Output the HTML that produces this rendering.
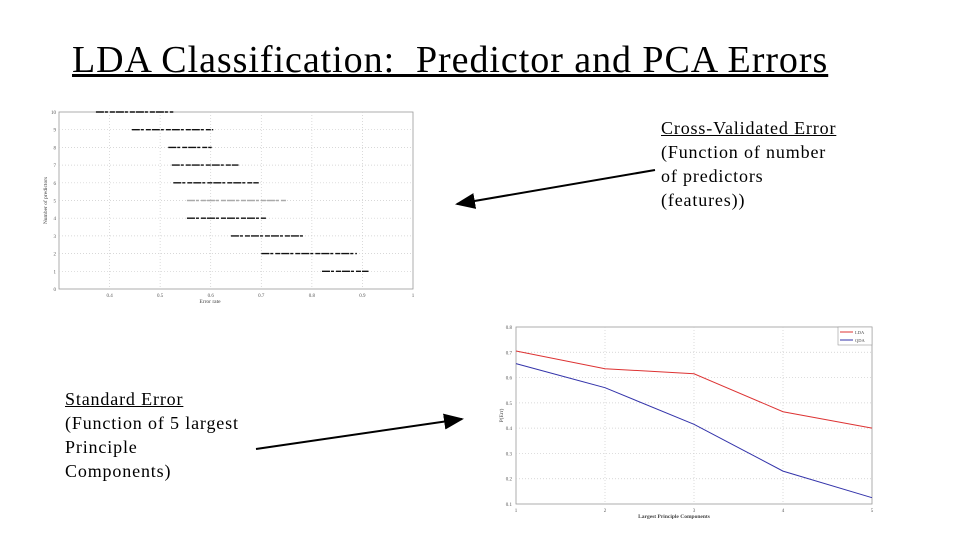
<!DOCTYPE html>
<html><head><meta charset="utf-8"><style>
body{margin:0;background:#fff;}
#slide{position:relative;width:960px;height:540px;overflow:hidden;background:#fff;font-family:"Liberation Serif",serif;color:#000;}
.title{position:absolute;left:72px;top:38px;font-size:38px;letter-spacing:0.95px;text-decoration:underline;white-space:nowrap;}
.note{position:absolute;font-size:18px;line-height:24px;letter-spacing:0.85px;}
.note u{text-decoration:underline;}
svg{position:absolute;left:0;top:0;}
</style></head><body>
<div id="slide">
<div class="title">LDA Classification:&nbsp; Predictor and PCA Errors</div>
<div class="note" style="left:661px;top:116px;"><u>Cross-Validated Error</u><br>(Function of number<br>of predictors<br>(features))</div>
<div class="note" style="left:65px;top:387px;"><u>Standard Error</u><br>(Function of 5 largest<br>Principle<br>Components)</div>
<svg id="svg" width="960" height="540">
<defs><marker id="ah" markerWidth="10" markerHeight="8" refX="9" refY="4" orient="auto"><path d="M0,0 L10,4 L0,8 z" fill="#000"/></marker></defs>
<line x1="655" y1="170" x2="457" y2="204" stroke="#000" stroke-width="2" marker-end="url(#ah)"/>
<line x1="256" y1="449" x2="462" y2="419" stroke="#000" stroke-width="2" marker-end="url(#ah)"/>
</svg>
</div>
<script>
// Chart 1 data
const predCounts=[1,2,3,4,5,6,7,8,9,10];
const errMin=[0.82,0.70,0.64,0.553,0.553,0.526,0.523,0.516,0.444,0.373];
const errMax=[0.912,0.889,0.784,0.711,0.75,0.695,0.655,0.602,0.605,0.526];
const x1Ticks=[0.3,0.4,0.5,0.6,0.7,0.8,0.9,1.0];
const x1Labels=["","0.4","0.5","0.6","0.7","0.8","0.9","1"];
const y1Ticks=[0,1,2,3,4,5,6,7,8,9,10];
// Chart 2 data
const pcs=[1,2,3,4,5];
const ldaErr=[0.705,0.635,0.615,0.465,0.40];
const qdaErr=[0.655,0.56,0.415,0.23,0.125];
const y2Ticks=[0.1,0.2,0.3,0.4,0.5,0.6,0.7,0.8];

const NS='http://www.w3.org/2000/svg';
const svg=document.getElementById('svg');
function mk(t,a,p){const e=document.createElementNS(NS,t);for(const k in a)e.setAttribute(k,a[k]);(p||svg).appendChild(e);return e;}

// Chart 1
const c1={l:59,r:413,t:112,b:289};
const sx1=v=>c1.l+(v-0.3)/0.7*(c1.r-c1.l);
const sy1=v=>c1.b-v/10*(c1.b-c1.t);
const g1=mk('g',{});


mk('rect',{x:c1.l,y:c1.t,width:c1.r-c1.l,height:c1.b-c1.t,fill:'#fff',stroke:'#999','stroke-width':0.8},g1);
x1Ticks.forEach((v,i)=>{
 const x=sx1(v);
 if(i>0&&i<x1Ticks.length-1)mk('line',{x1:x,y1:c1.t,x2:x,y2:c1.b,stroke:'#ccc','stroke-dasharray':'1,2','stroke-width':0.7},g1);
 const t=mk('text',{x:x,y:c1.b+8,'font-size':5,'text-anchor':'middle',fill:'#555','font-family':'Liberation Serif'},g1);
 t.textContent=x1Labels[i];
});
y1Ticks.forEach(v=>{
 const y=sy1(v);
 if(v>0&&v<10)mk('line',{x1:c1.l,y1:y,x2:c1.r,y2:y,stroke:'#ccc','stroke-dasharray':'1,2','stroke-width':0.7},g1);
 const t=mk('text',{x:c1.l-3,y:y+2,'font-size':5,'text-anchor':'end',fill:'#555','font-family':'Liberation Serif'},g1);
 t.textContent=v;
});
const xt1=mk('text',{x:(c1.l+c1.r)/2-26,y:c1.b+14,'font-size':5.5,'text-anchor':'middle',fill:'#444','font-family':'Liberation Serif'},g1);xt1.textContent='Error rate';
const yt1=mk('text',{x:0,y:0,'font-size':5.5,'text-anchor':'middle',fill:'#444','font-family':'Liberation Serif',transform:`translate(47,${(c1.t+c1.b)/2}) rotate(-90)`},g1);yt1.textContent='Number of predictors';
predCounts.forEach((n,i)=>{
 const s=mk('line',{x1:sx1(errMin[i]),y1:sy1(n),x2:sx1(errMax[i]),y2:sy1(n),stroke:n===5?'#aaa':'#111','stroke-width':1.4,'stroke-dasharray':'8,1,3,2,5,1'},g1);
 
 
});

// Chart 2
const c2={l:516,r:872,t:327,b:504};
const sx2=v=>c2.l+(v-1)/4*(c2.r-c2.l);
const sy2=v=>c2.b-(v-0.1)/0.7*(c2.b-c2.t);
const g2=mk('g',{});


mk('rect',{x:c2.l,y:c2.t,width:c2.r-c2.l,height:c2.b-c2.t,fill:'#fff',stroke:'#999','stroke-width':0.8},g2);
pcs.forEach(v=>{
 const x=sx2(v);
 if(v>1&&v<5)mk('line',{x1:x,y1:c2.t,x2:x,y2:c2.b,stroke:'#ccc','stroke-dasharray':'1,2','stroke-width':0.7},g2);
 const t=mk('text',{x:x,y:c2.b+8,'font-size':5,'text-anchor':'middle',fill:'#555','font-family':'Liberation Serif'},g2);t.textContent=v;
});
y2Ticks.forEach(v=>{
 const y=sy2(v);
 if(v>0.11&&v<0.79)mk('line',{x1:c2.l,y1:y,x2:c2.r,y2:y,stroke:'#ccc','stroke-dasharray':'1,2','stroke-width':0.7},g2);
 const t=mk('text',{x:c2.l-4,y:y+2,'font-size':5,'text-anchor':'end',fill:'#555','font-family':'Liberation Serif'},g2);t.textContent=v.toFixed(1);
});
const xt2=mk('text',{x:(c2.l+c2.r)/2-20,y:c2.b+14,'font-size':5.5,'text-anchor':'middle',fill:'#444','font-family':'Liberation Serif','font-weight':'bold'},g2);xt2.textContent='Largest Principle Components';
const yt2=mk('text',{x:0,y:0,'font-size':5.5,'text-anchor':'middle',fill:'#444','font-family':'Liberation Serif',transform:`translate(503,${(c2.t+c2.b)/2}) rotate(-90)`},g2);yt2.textContent='P(Err)';
function series(vals,col,name){
 const p=mk('polyline',{points:pcs.map((v,i)=>sx2(v)+','+sy2(vals[i])).join(' '),fill:'none',stroke:col,'stroke-width':1},g2);
 
 
}
series(ldaErr,'#d33','lda-line');
series(qdaErr,'#33a','qda-line');
const lg=mk('g',{},g2);


mk('rect',{x:838,y:327,width:34,height:18,fill:'#fff',stroke:'#999','stroke-width':0.6},lg);
mk('line',{x1:840,y1:332,x2:853,y2:332,stroke:'#d33','stroke-width':1},lg);
mk('line',{x1:840,y1:340,x2:853,y2:340,stroke:'#33a','stroke-width':1},lg);
const l1=mk('text',{x:855,y:334,'font-size':4.5,fill:'#444','font-family':'Liberation Serif'},lg);l1.textContent='LDA';
const l2=mk('text',{x:855,y:342,'font-size':4.5,fill:'#444','font-family':'Liberation Serif'},lg);l2.textContent='QDA';
</script>
</body></html>
